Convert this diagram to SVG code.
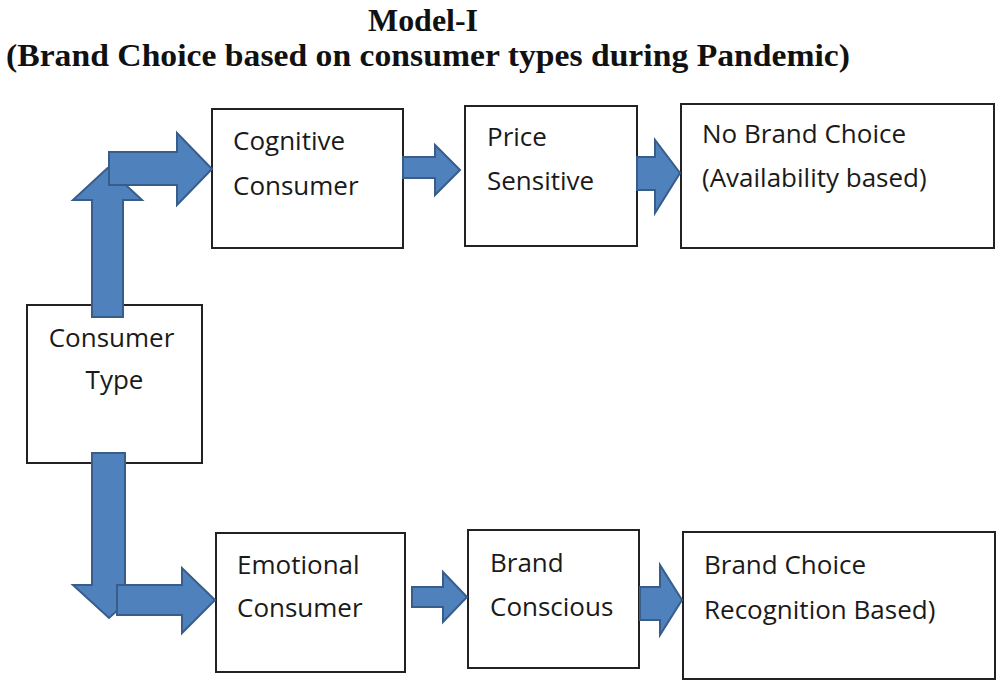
<svg xmlns="http://www.w3.org/2000/svg" width="1000" height="686" viewBox="0 0 1000 686">
<style>
.box{fill:#fff;stroke:#222;stroke-width:2}
.t{font-family:"Open Sans","Liberation Sans",sans-serif;font-size:26px;fill:#1a1a1a}
.title{font-family:"Liberation Serif","Times New Roman",serif;font-weight:bold;font-size:32px;fill:#111}
.arr{fill:#4F81BD;stroke:#385D8A;stroke-width:2;stroke-linejoin:miter}
</style>
<rect width="1000" height="686" fill="#fff"/>
<g id="title">
<text class="title" x="368" y="31" textLength="110" lengthAdjust="spacingAndGlyphs">Model-I</text>
<text class="title" x="6" y="66" textLength="844" lengthAdjust="spacingAndGlyphs">(Brand Choice based on consumer types during Pandemic)</text>
</g>
<g id="consumer-type"><rect class="box" x="27" y="305" width="175" height="158"/><text class="t" x="111.5" y="347" text-anchor="middle">Consumer</text><text class="t" x="114.5" y="389" text-anchor="middle">Type</text></g>
<g id="cognitive"><rect class="box" x="212" y="109" width="191" height="139"/><text class="t" x="233" y="150">Cognitive</text><text class="t" x="233" y="195">Consumer</text></g>
<g id="price"><rect class="box" x="465" y="106" width="172" height="140"/><text class="t" x="487" y="146">Price</text><text class="t" x="487" y="190">Sensitive</text></g>
<g id="no-brand"><rect class="box" x="681" y="104" width="313" height="144"/><text class="t" x="702" y="143">No Brand Choice</text><text class="t" x="702" y="187">(Availability based)</text></g>
<g id="emotional"><rect class="box" x="216" y="533" width="189" height="139"/><text class="t" x="237" y="574">Emotional</text><text class="t" x="237" y="617">Consumer</text></g>
<g id="brand-conscious"><rect class="box" x="468" y="530" width="171" height="138"/><text class="t" x="490" y="572">Brand</text><text class="t" x="490" y="616">Conscious</text></g>
<g id="brand-choice"><rect class="box" x="683" y="532" width="312" height="147"/><text class="t" x="704" y="574">Brand Choice</text><text class="t" x="704" y="619">Recognition Based)</text></g>
<g id="connectors">
<polygon class="arr" points="92,317 92,200 73,200 107.5,168 142,200 123,200 123,317"/>
<polygon class="arr" points="109,152 177,152 177,133 212,169 177,205 177,185 109,185"/>
<polygon class="arr" points="92,453 125,453 125,585 146,585 109,618 73,585 92,585"/>
<polygon class="arr" points="117,585 182,585 182,568 215,600 182,633 182,615 117,615"/>
<polygon class="arr" points="403,157 435,157 435,145 460,170 435,195 435,178 403,178"/>
<polygon class="arr" points="637,157 655,157 655,140 680,173 655,213 655,190 637,190"/>
<polygon class="arr" points="412,587 443,587 443,572 467,597 443,622 443,607 412,607"/>
<polygon class="arr" points="640,587 660,587 660,565 682,600 660,635 660,620 640,620"/>
</g>
</svg>
